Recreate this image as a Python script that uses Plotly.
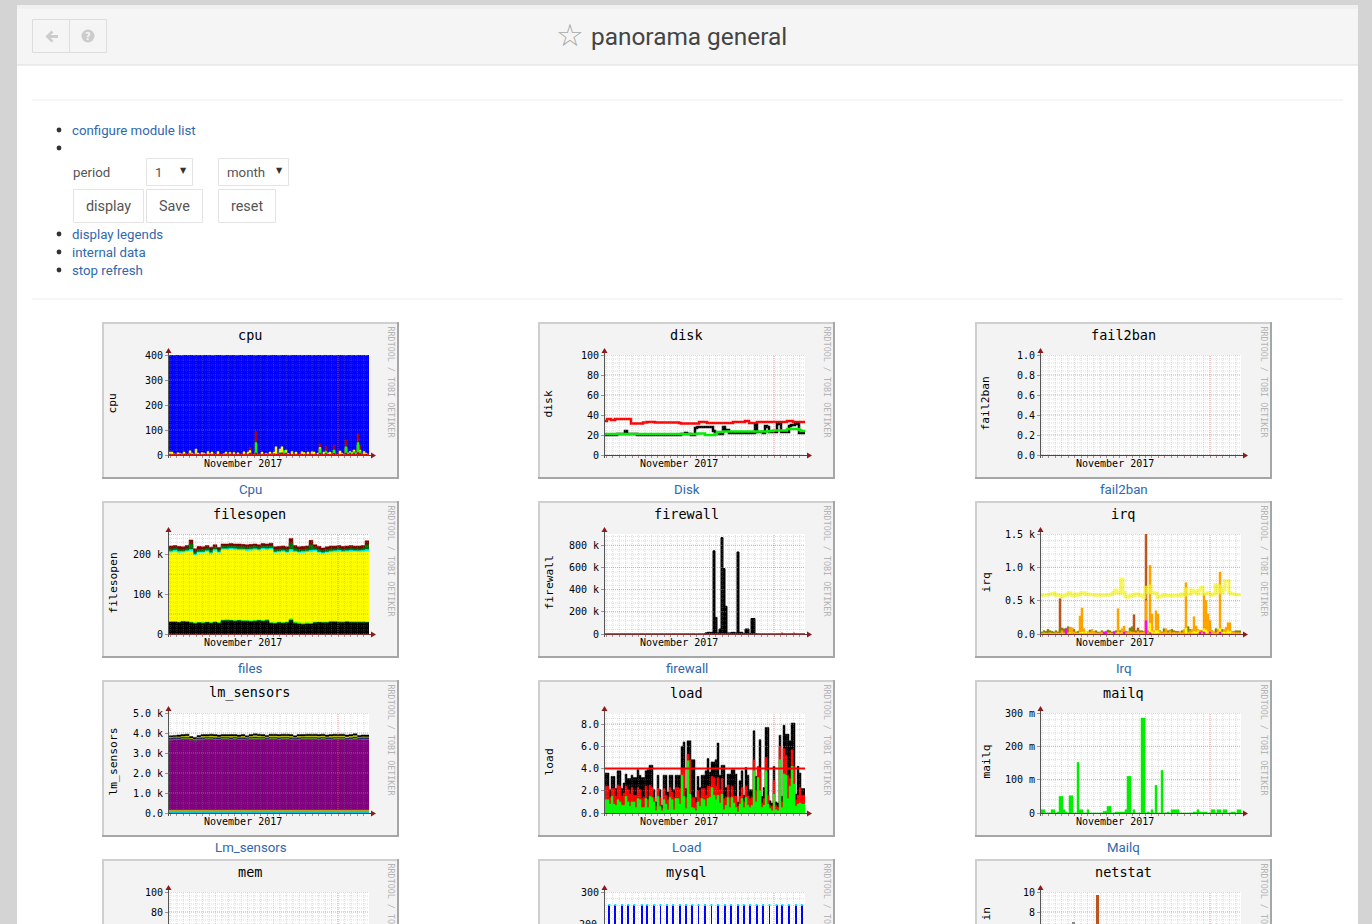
import plotly.graph_objects as go
import numpy as np

W, H = 1372, 924
MONO = "DejaVu Sans Mono"
UI = "Roboto"
LINK = "#2f68ad"
TXT = "#555555"
SPAN = 31.0

# ---------- data: values (each list is one series, evenly spaced over the month)
cpu_total = [399,401,398,400,402,399,398,401,400,399,402,400,398,401,399,400,398,402,401,399,400,398,399,401,400,402,399,398,400,401,399,400,402,398,399,401,400,399,398,402,400,401,399,398,400,402,399,401,400,398,399,402,401,400,398,399,400,402,401,399,398,400,401,402,399,400,398,401,399,402,400,398,401,399,400,402,398,401,400,399,402,400,398,399,401,400,402,399,398,401,400,399,402,398,400,401,399,400,398,401]
cpu_maroon = [0,0,0,0,0,0,0,0,0,0,0,0,0,0,0,0,0,0,0,0,0,0,0,0,0,0,0,0,0,0,0,0,0,0,0,0,0,0,0,0,32,0,0,95,0,0,0,0,0,0,0,0,0,0,0,0,0,0,0,0,0,0,0,0,0,0,0,0,0,0,0,0,0,0,0,45,0,0,35,0,0,0,40,0,0,0,0,0,60,0,0,0,20,0,85,40,0,0,0,0]
cpu_yellow = [12,12,5,3,9,7,4,12,4,3,17,8,3,24,8,4,10,8,4,14,6,12,4,3,14,3,3,5,12,3,11,3,11,3,9,3,3,13,3,12,18,3,3,14,3,3,12,3,7,4,12,4,12,33,4,24,33,12,20,7,3,14,3,12,3,3,13,10,4,12,3,13,12,4,8,30,4,12,10,8,12,4,14,3,3,16,8,3,30,8,14,10,20,8,40,20,3,14,8,3]
cpu_red = [4,3,4,4,3,4,3,4,4,3,5,4,3,4,3,4,3,4,4,3,4,3,4,3,3,4,4,3,4,3,4,4,3,4,3,4,4,3,4,3,8,4,3,8,3,4,3,4,4,3,4,3,5,4,4,6,9,4,8,3,4,3,4,3,4,3,4,3,4,3,4,4,3,4,3,7,4,3,6,4,3,4,6,3,4,3,4,3,8,4,6,4,7,3,10,6,4,3,4,3]
cpu_green = [0,0,0,0,0,0,0,0,0,0,0,0,0,0,0,0,0,0,0,0,0,0,0,0,0,0,0,0,0,0,0,0,0,0,0,0,0,0,0,0,3,0,0,50,0,0,0,0,0,0,0,0,0,0,0,10,3,18,0,0,0,0,0,0,0,0,0,0,0,0,0,0,0,0,0,25,0,0,15,0,0,0,20,0,0,0,0,0,33,0,10,0,14,5,50,15,0,0,0,0]

disk_red = [34,36,36,35,35,36,36,36,36,36,36,36,36,31.5,31.5,31.5,31.5,31.5,31.5,32.5,32.5,33,33,33,33,32.5,32.5,32.5,32.5,32.5,32.5,32.5,32.5,32.5,32.5,32.5,32.5,32,31.5,31.5,31.5,31.5,31.5,31.5,31.5,31.5,31.5,33,33,33,33,32,32,32,32,32,32,32,32,32,32,32,32,32,33,33,33,33,33,33,34,34,32,32,32,32,33,33,33,33,33,33,33,33,33,33,33,33,33,33,33,34,34,34,33,33,33,33,33,33]
disk_black = [20,20,20,20,20,20,21,21,21,21,24,21,21,21,21,21,20,20,20,20,20,20,20,20,20,20,20,20,20,20,20,20,20,20,20,20,20,20,21,21,22,21,21,20,20,27,28,28,28,28,28,28,28,28,24,21,21,21,21,28,25,25,22,22,22,22,22,22,22,22,22,22,22,22,22,30,23,23,23,22,29,28,23,23,23,23,31,31,23,23,23,23,29,30,30,31,31,22,22,22]
disk_green = [21,21,21,21,21,21,21,21,21,21,21,21,21,21,21,21,21,21,21,21,21,21,21,21,21,21,21,21,21,21,21,21,21,21,21,21,21,21,21,21,21,21,21,21,21,21,21.5,21.5,21.5,21.5,20,20,20,20,20,21,23,23,23,23.5,23.5,23.5,23.5,23.5,23.5,23.5,23.5,23.5,23.5,23.5,23.5,23.5,23.5,23.5,23.5,23.5,23.5,23.5,23.5,23.5,23.5,23.5,24,24,24.5,24.5,24.5,24.5,24.5,24.5,24.5,26,26,26,26,26,26,25,24,24]

files_maroon = [221,222,220,219,222,236,214,220,219,222,218,224,217,226,226,227,226,226,225,224,225,226,224,227,226,228,219,220,221,219,240,222,219,220,221,235,224,220,216,219,221,221,222,220,221,222,221,221,222,234]
files_dgreen = [214,216,213,212,215,226,206,212,212,215,210,218,211,220,220,221,220,219,219,217,219,220,218,221,220,221,212,213,214,212,228,215,212,213,214,224,217,212,209,212,214,214,215,213,214,215,214,214,215,224]
files_cyan = [208,210,207,207,209,212,200,206,206,209,204,212,206,214,214,215,214,213,213,212,213,214,212,215,214,215,206,207,209,206,212,208,206,207,208,210,211,206,204,206,208,209,210,208,209,210,209,209,210,212]
files_yellow = [204,206,203,204,206,207,197,203,203,205,200,208,203,211,211,212,211,210,210,208,209,211,209,212,211,212,203,204,205,203,206,205,203,203,205,205,207,203,201,203,205,205,206,205,205,206,206,205,206,207]
files_green = [31,31,30,32,32,30,28,29,29,30,29,31,29,35,36,35,34,35,34,34,33,34,35,34,36,29,28,30,29,30,38,30,28,27,28,27,30,30,30,30,32,32,31,31,32,31,31,31,31,30]
files_black = [30,30,29,31,30,28,26,28,27,29,27,29,27,33,33,33,32,33,32,32,31,32,33,32,33,27,26,28,27,28,34,27,25,24,25,25,28,29,28,28,30,30,29,29,30,29,29,29,29,29]

firewall_black = [0,0,0,0,0,0,0,0,0,0,0,0,0,0,0,0,0,0,0,0,0,0,0,0,0,0,0,0,0,0,0,0,0,0,0,0,0,0,0,0,0,0,0,0,0,0,0,0,0,0,10,15,15,15,750,150,10,45,870,590,250,10,10,15,15,10,740,15,15,5,45,45,5,140,140,2,0,0,0,0,0,0,0,0,0,0,0,0,0,0,0,0,0,0,0,0,0,0,0,0]
firewall_red = [0,0,0,0,0,0,0,0,0,0,0,0,0,0,0,0,0,0,0,0,0,0,0,0,0,0,0,0,0,0,0,0,0,0,0,0,0,0,0,0,0,0,0,0,0,0,0,0,0,0,0,0,0,0,0,0,0,0,0,0,0,0,0,0,0,0,0,0,0,0,0,0,0,0,0,0,0,0,0,0,0,0,0,0,0,0,0,0,8,0,0,0,0,0,8,0,0,0,0,0]

irq_brown = [0.02,0.02,0.03,0.03,0.02,0.03,0.02,0.02,0.02,0.53,0.03,0.03,0.03,0.02,0.02,0.03,0.02,0.02,0.02,0.02,0.02,0.02,0.03,0.02,0.02,0.03,0.02,0.02,0.02,0.02,0.02,0.02,0.02,0.02,0.02,0.02,0.02,0.02,0.02,0.02,0.02,0.02,0.02,0.03,0.02,0.03,0.29,0.03,0.09,0.03,0.03,0.03,1.50,0.03,0.02,0.03,0.02,0.03,0.02,0.02,0.02,0.02,0.03,0.02,0.02,0.03,0.02,0.03,0.02,0.02,0.02,0.02,0.02,0.03,0.02,0.02,0.02,0.02,0.02,0.02,0.02,0.02,0.02,0.02,0.03,0.02,0.02,0.02,0.02,0.02,0.02,0.02,0.02,0.02,0.02,0.02,0.02,0.02,0.02,0.02]
irq_olive = [0.03,0.05,0.04,0.07,0.05,0.04,0.03,0.05,0.03,0.07,0.09,0.08,0.08,0.11,0.10,0.09,0.07,0.03,0.04,0.06,0.03,0.05,0.03,0.03,0.06,0.03,0.04,0.05,0.03,0.03,0.05,0.03,0.04,0.06,0.05,0.03,0.04,0.05,0.04,0.05,0.03,0.06,0.04,0.03,0.09,0.11,0.04,0.05,0.03,0.05,0.05,0.04,0.05,0.05,0.03,0.03,0.04,0.03,0.04,0.05,0.03,0.08,0.04,0.05,0.06,0.07,0.05,0.04,0.04,0.03,0.05,0.05,0.10,0.11,0.07,0.05,0.04,0.08,0.05,0.03,0.05,0.04,0.09,0.05,0.10,0.05,0.03,0.08,0.06,0.05,0.07,0.04,0.03,0.05,0.05,0.03,0.04,0.05,0.05,0.05]
irq_orange = [0.01,0.02,0.01,0.01,0.02,0.01,0.01,0.02,0.01,0.01,0.05,0.02,0.04,0.02,0.10,0.09,0.03,0.02,0.01,0.27,0.39,0.08,0.02,0.01,0.03,0.07,0.04,0.02,0.01,0.02,0.03,0.01,0.02,0.02,0.02,0.01,0.02,0.02,0.38,0.03,0.08,0.12,0.02,0.03,0.04,0.03,0.03,0.02,0.04,0.02,0.03,0.03,0.50,0.02,1.03,0.30,0.05,0.35,0.30,0.04,0.02,0.03,0.08,0.02,0.05,0.02,0.03,0.02,0.02,0.03,0.02,0.07,0.77,0.03,0.05,0.07,0.26,0.12,0.07,0.06,0.02,0.60,0.50,0.30,0.20,0.05,0.03,0.02,0.07,0.93,0.03,0.07,0.10,0.17,0.17,0.04,0.03,0.02,0.02,0.02]
irq_yellow = [0.01,0.01,0.01,0.01,0.01,0.01,0.01,0.01,0.01,0.01,0.01,0.01,0.01,0.01,0.02,0.01,0.01,0.01,0.01,0.02,0.03,0.02,0.04,0.02,0.01,0.01,0.01,0.01,0.01,0.01,0.01,0.01,0.01,0.01,0.01,0.01,0.01,0.01,0.02,0.01,0.02,0.02,0.01,0.01,0.01,0.01,0.01,0.01,0.01,0.01,0.01,0.01,0.10,0.01,0.16,0.04,0.02,0.05,0.05,0.01,0.01,0.01,0.01,0.01,0.01,0.01,0.01,0.01,0.01,0.01,0.01,0.01,0.09,0.01,0.01,0.02,0.04,0.03,0.05,0.02,0.01,0.08,0.06,0.03,0.02,0.01,0.01,0.01,0.02,0.08,0.02,0.03,0.02,0.05,0.04,0.01,0.01,0.01,0.01,0.01]
irq_magenta = [0,0,0,0,0,0,0,0,0,0,0,0,0.08,0,0,0,0,0,0,0,0,0,0,0,0,0,0,0,0,0,0,0.03,0.03,0,0,0,0.03,0,0,0,0,0.03,0,0,0,0,0,0,0,0,0,0,0.20,0,0.02,0,0,0,0,0,0,0,0,0,0,0,0,0,0,0,0,0,0,0,0,0,0,0,0,0.03,0,0.03,0,0,0.03,0,0,0,0,0.03,0,0,0,0,0,0,0,0,0,0]
irq_line = [0.58,0.58,0.58,0.59,0.59,0.60,0.61,0.58,0.59,0.58,0.56,0.57,0.58,0.60,0.62,0.58,0.57,0.60,0.58,0.60,0.62,0.62,0.59,0.60,0.59,0.59,0.59,0.58,0.59,0.58,0.58,0.59,0.58,0.58,0.59,0.60,0.62,0.66,0.62,0.61,0.82,0.62,0.56,0.55,0.57,0.58,0.57,0.60,0.60,0.58,0.57,0.55,0.70,0.62,0.72,0.62,0.62,0.61,0.55,0.56,0.57,0.59,0.58,0.57,0.58,0.57,0.58,0.58,0.58,0.57,0.60,0.58,0.68,0.60,0.60,0.66,0.62,0.64,0.60,0.66,0.70,0.60,0.60,0.62,0.60,0.58,0.60,0.74,0.62,0.72,0.62,0.66,0.80,0.80,0.62,0.60,0.60,0.59,0.59,0.59]

lm_black = [3.86,3.88,3.90,3.92,3.94,3.82,3.78,3.88,3.92,3.92,3.94,3.92,3.90,3.92,3.92,3.92,3.92,3.90,3.92,3.86,3.92,3.96,3.94,3.92,3.88,3.94,3.94,3.92,3.94,3.94,3.92,3.86,3.92,3.92,3.94,3.94,3.94,3.92,3.94,3.90,3.92,3.94,3.94,3.94,3.90,3.92,3.96,3.88,3.90,3.90]
lm_yellow = [3.78,3.80,3.80,3.82,3.84,3.72,3.66,3.78,3.82,3.82,3.84,3.82,3.80,3.82,3.82,3.82,3.82,3.80,3.82,3.76,3.82,3.86,3.84,3.82,3.78,3.84,3.84,3.82,3.84,3.84,3.82,3.76,3.82,3.82,3.84,3.84,3.84,3.82,3.84,3.80,3.82,3.84,3.84,3.84,3.80,3.82,3.86,3.78,3.80,3.80]
lm_navy = [3.74,3.76,3.76,3.78,3.78,3.68,3.62,3.74,3.76,3.78,3.78,3.76,3.76,3.78,3.78,3.76,3.78,3.76,3.76,3.72,3.78,3.80,3.78,3.78,3.74,3.78,3.78,3.76,3.78,3.78,3.76,3.72,3.76,3.78,3.78,3.78,3.78,3.76,3.78,3.76,3.76,3.78,3.78,3.78,3.74,3.76,3.80,3.74,3.76,3.76]
lm_green = [3.66,3.70,3.70,3.72,3.72,3.62,3.56,3.68,3.70,3.72,3.72,3.70,3.70,3.72,3.72,3.70,3.72,3.70,3.70,3.66,3.72,3.74,3.72,3.72,3.68,3.72,3.72,3.70,3.72,3.72,3.70,3.66,3.70,3.72,3.72,3.72,3.72,3.70,3.72,3.70,3.70,3.72,3.72,3.72,3.68,3.70,3.74,3.68,3.70,3.70]
lm_purple = [3.62,3.66,3.66,3.68,3.68,3.62,3.56,3.64,3.66,3.68,3.68,3.66,3.66,3.68,3.68,3.66,3.68,3.66,3.66,3.64,3.68,3.68,3.68,3.68,3.66,3.68,3.68,3.66,3.68,3.68,3.66,3.64,3.66,3.68,3.68,3.68,3.68,3.66,3.68,3.66,3.66,3.68,3.68,3.68,3.66,3.66,3.68,3.66,3.66,3.66]
lm_band_green = [0.14,0.14,0.14,0.14,0.14,0.14,0.14,0.14,0.14,0.14]
lm_band_orange = [0.11,0.11,0.11,0.11,0.11,0.11,0.11,0.11,0.11,0.11]
lm_band_cyan = [0.08,0.08,0.08,0.08,0.08,0.08,0.08,0.08,0.08,0.08]

load_black = [3.6,3.6,2.1,3.3,3.3,2.2,3.8,3.8,2.2,2.7,3.5,3.1,3.1,3.4,3.2,3.2,3.9,3.4,3.2,3.2,3.8,3.9,4.3,4.3,2.1,1.0,3.4,2.1,0.7,3.4,3.4,1.9,3.4,3.4,2.1,3.4,3.4,3.4,6.0,6.4,2.2,6.5,6.5,4.8,4.8,1.4,3.3,2.3,3.4,3.4,3.8,4.9,3.7,4.6,4.6,4.8,6.3,3.4,4.3,4.3,2.3,3.5,3.5,3.9,3.9,3.5,1.0,2.9,3.8,1.6,4.1,3.4,2.1,2.1,7.4,3.3,3.3,6.6,1.5,2.3,7.7,7.7,1.1,0.9,4.2,1.0,0.9,7.0,1.5,7.9,7.1,7.1,6.5,8.1,8.1,1.7,4.2,3.6,2.2,2.2]
load_red = [2.4,2.4,1.4,2.2,2.2,1.5,2.5,2.4,1.5,1.8,2.4,2.1,1.7,2.3,1.6,1.6,2.3,2.1,1.3,1.4,2.4,1.2,2.5,2.3,1.4,0.6,2.2,1.4,0.4,2.2,1.6,1.2,2.3,1.9,1.4,2.3,2.3,2.2,4.0,4.0,1.4,5.3,4.8,1.4,1.4,0.9,2.0,1.4,2.2,2.2,1.6,2.4,2.4,3.3,3.2,2.4,3.2,2.1,3.1,1.3,1.4,2.5,1.4,2.4,1.5,1.5,0.6,1.5,2.3,1.0,2.4,1.5,1.3,1.4,4.8,2.0,4.2,3.8,0.9,1.3,5.0,1.6,0.7,0.6,2.9,0.7,0.5,6.0,1.0,5.8,5.2,3.4,3.1,5.7,4.2,1.2,1.6,2.3,1.6,1.6]
load_green = [1.2,1.2,0.8,1.5,0.8,0.7,1.2,1.0,0.7,0.7,1.5,1.0,0.6,1.0,1.0,0.5,1.3,1.2,0.5,0.5,1.3,0.5,1.5,1.4,1.0,0.2,1.5,0.6,0.2,1.2,0.8,0.3,1.4,1.2,0.3,1.3,1.3,0.8,3.4,1.5,0.4,4.7,1.7,0.5,0.4,0.2,1.0,0.6,1.3,1.2,0.6,1.3,1.4,2.3,1.6,1.2,1.6,0.9,1.7,0.3,0.7,1.4,0.5,1.4,0.9,0.5,0.1,0.8,1.3,0.5,1.4,0.7,0.5,0.7,3.8,1.0,3.2,2.0,0.5,0.7,3.8,0.8,0.4,0.2,1.7,0.3,0.2,4.8,0.5,3.5,3.4,1.3,2.4,4.2,2.6,0.6,0.8,0.9,0.8,0.8]
load_limit = [4.0,4.0]

mailq_green = [10,10,0,0,0,10,10,0,3,50,50,10,3,0,52,52,0,0,152,10,10,0,0,10,0,0,0,0,0,0,0,5,5,20,20,0,0,3,3,3,3,3,10,110,110,0,10,0,0,0,285,285,0,3,0,10,0,83,0,0,128,0,0,3,0,10,10,10,10,0,0,0,0,0,0,0,3,3,10,3,3,3,3,0,0,10,10,0,10,10,0,10,10,0,0,3,3,0,10,10]
mysql_days = [0.67,1.6,2.65,3.6,4.55,5.7,6.55,7.65,8.6,9.6,10.55,11.6,12.55,13.55,14.5,15.5,16.5,17.5,18.6,19.55,20.6,21.5,22.5,23.5,24.5,25.5,26.6,27.5,28.5,29.6,30.5]
mysql_peak = [261,261,261,261,261,261,261,261,261,261,261,261,261,261,261,261,261,261,261,261,261,261,261,261,261,261,261,261,261,261,261]
mysql_widths = [0.14,0.14,0.3,0.14,0.14,0.14,0.14,0.14,0.14,0.14,0.14,0.14,0.14,0.14,0.14,0.14,0.14,0.14,0.14,0.14,0.14,0.14,0.3,0.14,0.14,0.14,0.14,0.14,0.14,0.14,0.14]
netstat_days = [5.0,8.7]
netstat_vals = [7.0,9.7]

panels = [
    dict(title="cpu", ylab="cpu", link="Cpu", ymax=400, ticks=[0,100,200,300,400], labels=["0","100","200","300","400"], major=100, minor=20),
    dict(title="disk", ylab="disk", link="Disk", ymax=100, ticks=[0,20,40,60,80,100], labels=["0","20","40","60","80","100"], major=20, minor=4),
    dict(title="fail2ban", ylab="fail2ban", link="fail2ban", ymax=1.0, ticks=[0,0.2,0.4,0.6,0.8,1.0], labels=["0.0","0.2","0.4","0.6","0.8","1.0"], major=0.2, minor=0.04),
    dict(title="filesopen", ylab="filesopen", link="files", ymax=251, ticks=[0,100,200], labels=["0","100 k","200 k"], major=50, minor=10),
    dict(title="firewall", ylab="firewall", link="firewall", ymax=902, ticks=[0,200,400,600,800], labels=["0","200 k","400 k","600 k","800 k"], major=200, minor=40),
    dict(title="irq", ylab="irq", link="Irq", ymax=1.5, ticks=[0,0.5,1.0,1.5], labels=["0.0","0.5 k","1.0 k","1.5 k"], major=0.5, minor=0.1),
    dict(title="lm_sensors", ylab="lm_sensors", link="Lm_sensors", ymax=5.0, ticks=[0,1,2,3,4,5], labels=["0.0","1.0 k","2.0 k","3.0 k","4.0 k","5.0 k"], major=1, minor=0.5),
    dict(title="load", ylab="load", link="Load", ymax=9.0, ticks=[0,2,4,6,8], labels=["0.0","2.0","4.0","6.0","8.0"], major=2, minor=0.5),
    dict(title="mailq", ylab="mailq", link="Mailq", ymax=300, ticks=[0,100,200,300], labels=["0","100 m","200 m","300 m"], major=100, minor=20),
    dict(title="mem", ylab="", link="", ymax=100, ticks=[80,100], labels=["80","100"], major=20, minor=4),
    dict(title="mysql", ylab="", link="", ymax=300, ticks=[300], labels=["300"], major=100, minor=20),
    dict(title="netstat", ylab="", link="", ymax=10, ticks=[8,10], labels=["8","10"], major=2, minor=0.4),
]
series = {
    "cpu": [(cpu_total,"#0000ff"),(cpu_maroon,"#a00020"),(cpu_yellow,"#ffff00"),(cpu_green,"#00ff00"),(cpu_red,"#d00000")],
    "filesopen": [(files_maroon,"#800000"),(files_dgreen,"#007000"),(files_cyan,"#00ffff"),(files_yellow,"#ffff00"),(files_green,"#00ff00"),(files_black,"#000000")],
    "firewall": [(firewall_black,"#000000"),(firewall_red,"#ff0000")],
    "irq": [(irq_brown,"#b8541e"),(irq_olive,"#808000"),(irq_orange,"#ffa500"),(irq_yellow,"#ffff00"),(irq_magenta,"#ff00ff")],
    "lm_sensors": [(lm_black,"#000000"),(lm_yellow,"#eeee00"),(lm_navy,"#000080"),(lm_green,"#70c000"),(lm_purple,"#800080"),(lm_band_green,"#90c000"),(lm_band_orange,"#ffa500"),(lm_band_cyan,"#00c8e0")],
    "load": [(load_black,"#000000"),(load_red,"#ff0000"),(load_green,"#00ff00")],
    "mailq": [(mailq_green,"#00ee00")],
}
MINOR_X = [0.2 + d for d in range(31)]
MAJOR_X = [26.2]

# ---------- helpers
def px(x): return x / W
def py(y): return 1 - y / H
shapes, notes = [], []
def rect(x0, y0, x1, y1, fill=None, line=None, lw=1, layer="below"):
    shapes.append(dict(type="rect", xref="paper", yref="paper", x0=px(x0), x1=px(x1), y0=py(y0), y1=py(y1),
                       fillcolor=fill or "rgba(0,0,0,0)", line=dict(color=line or "rgba(0,0,0,0)", width=lw if line else 0), layer=layer))
def hline(x0, y0, x1, y1, color, lw=1, layer="below"):
    shapes.append(dict(type="line", xref="paper", yref="paper", x0=px(x0), x1=px(x1), y0=py(y0), y1=py(y1),
                       line=dict(color=color, width=lw), layer=layer))
def poly(points, color, layer="above"):
    path = "M " + " L ".join(f"{px(a):.5f} {py(b):.5f}" for a, b in points) + " Z"
    shapes.append(dict(type="path", xref="paper", yref="paper", path=path, fillcolor=color, line=dict(width=0), layer=layer))
def circle(x, y, r, color):
    shapes.append(dict(type="circle", xref="paper", yref="paper", x0=px(x-r), x1=px(x+r), y0=py(y-r), y1=py(y+r),
                       fillcolor=color, line=dict(width=0), layer="below"))
def text(x, y, s, size=14, color=TXT, font=UI, anchor="left", angle=0, vanchor="middle"):
    notes.append(dict(x=px(x), y=py(y), xref="paper", yref="paper", text=s, showarrow=False, xanchor=anchor, yanchor=vanchor,
                      textangle=angle, borderpad=0, borderwidth=0, font=dict(family=font, size=size, color=color)))

# ---------- page chrome
rect(17, 5, 1358, 924, fill="#ffffff")
rect(17, 5, 1358, 65, fill="#f5f5f5")
rect(17, 5, 1358, 9, fill="#f0f0f0")
hline(17, 65, 1358, 65, "#dddddd")
rect(32.5, 19.5, 69.5, 52.5, fill="#f5f5f5", line="#dddddd")
rect(69.5, 19.5, 106.5, 52.5, fill="#f5f5f5", line="#dddddd")
poly([(45.5, 36.5), (51.5, 30.5), (53.5, 32.5), (50.5, 35), (58, 35), (58, 38), (50.5, 38), (53.5, 40.5), (51.5, 42.5)], "#cccccc", "below")
circle(88, 36, 6.5, "#cccccc")
text(88, 36, "<b>?</b>", 10, "#f5f5f5", "DejaVu Sans", "center")
text(570, 35, "☆", 31, "#a8a8a8", "DejaVu Sans", "center")
text(689, 37, "panorama general", 24.4, "#444444", UI, "center")
hline(32, 100, 1343, 100, "#eeeeee")
hline(32, 299, 1343, 299, "#eeeeee")
for y in [130, 148, 234, 252, 270]:
    circle(59, y, 2.4, "#333333")
for y, s in [(130, "configure module list"), (234, "display legends"), (252.5, "internal data"), (270.5, "stop refresh")]:
    text(72, y, s, 13.25, LINK)
text(73, 172, "period", 13.25)
rect(146.5, 158.5, 192.5, 185.5, fill="#ffffff", line="#e4e4e4")
rect(218.5, 158.5, 288.5, 185.5, fill="#ffffff", line="#e4e4e4")
text(155, 172, "1", 13.25)
text(183, 171, "▼", 8, "#333333", "DejaVu Sans", "center")
text(227, 172, "month", 13.25)
text(279, 171, "▼", 8, "#333333", "DejaVu Sans", "center")
for x0, x1, s in [(73.5, 143.5, "display"), (146.5, 202.5, "Save"), (218.5, 275.5, "reset")]:
    rect(x0, 189.5, x1, 222.5, fill="#ffffff", line="#e4e4e4")
    text((x0 + x1) / 2, 206, s, 14.4, TXT, UI, "center")

# ---------- panels
fig = go.Figure()
layout_axes = {}
FRAME_L = [102, 538, 975]
PLOT_L = [169, 605, 1041]
FRAME_T = [322, 501, 680, 859]
TICK = "rgba(122,74,74,0.6)"

for k, p in enumerate(panels):
    row, col = k // 3, k % 3
    fl, ft = FRAME_L[col], FRAME_T[row]
    pl, pt = PLOT_L[col], ft + 33
    zero = pt + 100
    fb = ft + 157
    rect(fl, ft, fl + 297, fb, fill="#cfcfcf")
    rect(fl + 295, ft, fl + 297, fb, fill="#a6a6a6")
    rect(fl, fb - 2, fl + 297, fb, fill="#a6a6a6")
    rect(fl + 2, ft + 2, fl + 295, fb - 2, fill="#f3f3f3")
    rect(pl, pt, pl + 200, min(zero, 926), fill="#ffffff")
    vis_bottom = min(zero, H)
    ymin = 0
    if p["title"] == "mem":
        ymin = 100 - (vis_bottom - pt)
    if p["title"] == "mysql":
        ymin = 300 - (vis_bottom - pt) * 3
    if p["title"] == "netstat":
        ymin = 10 - (vis_bottom - pt) * 0.1
    sfx = "" if k == 0 else str(k + 1)
    xa, ya = "x" + sfx, "y" + sfx
    layout_axes["xaxis" + sfx] = dict(domain=[px(pl), px(pl + 200)], range=[0, SPAN], anchor=ya, showgrid=False, zeroline=False,
                                      showline=False, showticklabels=False, tickmode="array", tickvals=MINOR_X,
                                      ticks="outside" if row < 3 else "", ticklen=2, tickcolor=TICK, tickwidth=1)
    layout_axes["yaxis" + sfx] = dict(domain=[py(vis_bottom), py(pt)], range=[ymin, p["ymax"]], anchor=xa, showgrid=False, zeroline=False,
                                      showline=False, tickmode="array", tickvals=p["ticks"], ticktext=p["labels"], ticks="outside",
                                      ticklen=3, tickcolor=TICK, tickwidth=1, tickfont=dict(family=MONO, size=10, color="#000000"))
    lw = 1 if p["title"] == "firewall" else 0.5
    for vals, color in series.get(p["title"], []):
        n = len(vals)
        xs = [i * SPAN / n for i in range(n)] + [SPAN]
        ys = list(vals) + [vals[-1]]
        fig.add_trace(go.Scatter(x=xs, y=ys, mode="lines", line=dict(color=color, width=lw, shape="hv"), fill="tozeroy",
                                 fillcolor=color, xaxis=xa, yaxis=ya, hoverinfo="skip", showlegend=False))
    if p["title"] == "disk":
        for vals, color in [(disk_red, "#ff0000"), (disk_black, "#000000"), (disk_green, "#00ee00")]:
            n = len(vals)
            fig.add_trace(go.Scatter(x=[i * SPAN / n for i in range(n)] + [SPAN], y=list(vals) + [vals[-1]], mode="lines",
                                     line=dict(color=color, width=2.5, shape="hv"), xaxis=xa, yaxis=ya, hoverinfo="skip", showlegend=False))
    if p["title"] == "irq":
        n = len(irq_line)
        fig.add_trace(go.Scatter(x=[i * SPAN / n for i in range(n)] + [SPAN], y=irq_line + [irq_line[-1]], mode="lines",
                                 line=dict(color="rgba(245,245,60,0.8)", width=3, shape="hv"), xaxis=xa, yaxis=ya, hoverinfo="skip", showlegend=False))
    if p["title"] == "mysql":
        fig.add_trace(go.Bar(x=mysql_days, y=mysql_peak, width=mysql_widths, marker=dict(color="#0000ff", line=dict(width=0)),
                             xaxis=xa, yaxis=ya, hoverinfo="skip", showlegend=False))
        fig.add_trace(go.Scatter(x=mysql_days, y=mysql_peak, mode="markers", marker=dict(color="#00e5ff", size=2, symbol="square"),
                                 xaxis=xa, yaxis=ya, hoverinfo="skip", showlegend=False))
    if p["title"] == "netstat":
        fig.add_trace(go.Bar(x=netstat_days, y=netstat_vals, width=0.45, marker=dict(color=["#888888", "#b8541e"], line=dict(width=0)),
                             xaxis=xa, yaxis=ya, hoverinfo="skip", showlegend=False))
    # rrdtool style dotted grid, above the fills
    minor_y = [v for v in np.arange(0, p["ymax"] + 1e-9, p["minor"]) if v >= ymin]
    major_y = [v for v in np.arange(0, p["ymax"] + 1e-9, p["major"]) if v >= ymin]
    def grid(xvals, yvals):
        gx, gy = [], []
        for v in xvals:
            gx += [v, v, None]; gy += [ymin, p["ymax"], None]
        for v in yvals:
            gx += [0, SPAN, None]; gy += [v, v, None]
        return gx, gy
    gx, gy = grid(MINOR_X, minor_y)
    fig.add_trace(go.Scatter(x=gx, y=gy, mode="lines", line=dict(color="rgba(140,140,140,0.3)", width=1, dash="1px,1px"),
                             xaxis=xa, yaxis=ya, hoverinfo="skip", showlegend=False))
    gx, gy = grid(MAJOR_X, major_y)
    fig.add_trace(go.Scatter(x=gx, y=gy, mode="lines", line=dict(color="rgba(255,90,90,0.45)", width=1, dash="1px,1px"),
                             xaxis=xa, yaxis=ya, hoverinfo="skip", showlegend=False))
    if p["title"] == "load":
        fig.add_trace(go.Scatter(x=[0, SPAN], y=load_limit, mode="lines", line=dict(color="#ff0000", width=2),
                                 xaxis=xa, yaxis=ya, hoverinfo="skip", showlegend=False))
    if row < 3:
        hline(pl, zero + 0.5, pl + 203, zero + 0.5, "#7a3030", 1, "above")
        poly([(pl + 202, zero - 2.5), (pl + 207, zero + 0.5), (pl + 202, zero + 3.5)], "#8b1a1a")
    hline(pl - 0.5, pt - 3, pl - 0.5, min(zero + 3, H), "#555555", 1, "above")
    poly([(pl - 3.5, pt - 2), (pl - 0.5, pt - 7), (pl + 2.5, pt - 2)], "#8b1a1a")
    text(fl + 148, ft + 12.5, p["title"], 13.5, "#000000", MONO, "center")
    text(fl + 289, ft + 60.5, "RRDTOOL / TOBI OETIKER", 8.4, "#b4b4b4", MONO, "center", 90)
    if row < 3:
        text(fl + 10.5, ft + 82, p["ylab"], 11.3, "#000000", MONO, "center", -90)
        text(pl + 73.5, zero + 8, "November 2017", 10, "#000000", MONO, "center")
        text(fl + 148.5, fb + 10.5, p["link"], 13.25, LINK, UI, "center")

# the parts that the page bottom cuts through
text(597, 925, "200", 10, "#000000", MONO, "right")
text(986, 907, "netstat in", 11.3, "#000000", MONO, "center", -90, "top")

fig.update_layout(width=W, height=H, margin=dict(l=0, r=0, t=0, b=0, autoexpand=False), autosize=False, paper_bgcolor="#d4d4d4",
                  plot_bgcolor="rgba(0,0,0,0)", shapes=shapes, annotations=notes, showlegend=False, bargap=0, barmode="overlay",
                  **layout_axes)
fig.write_html("out.html", config=dict(displayModeBar=False),
               post_script="document.documentElement.style.overflow='hidden';document.body.style.margin='0';document.body.style.overflow='hidden';")
